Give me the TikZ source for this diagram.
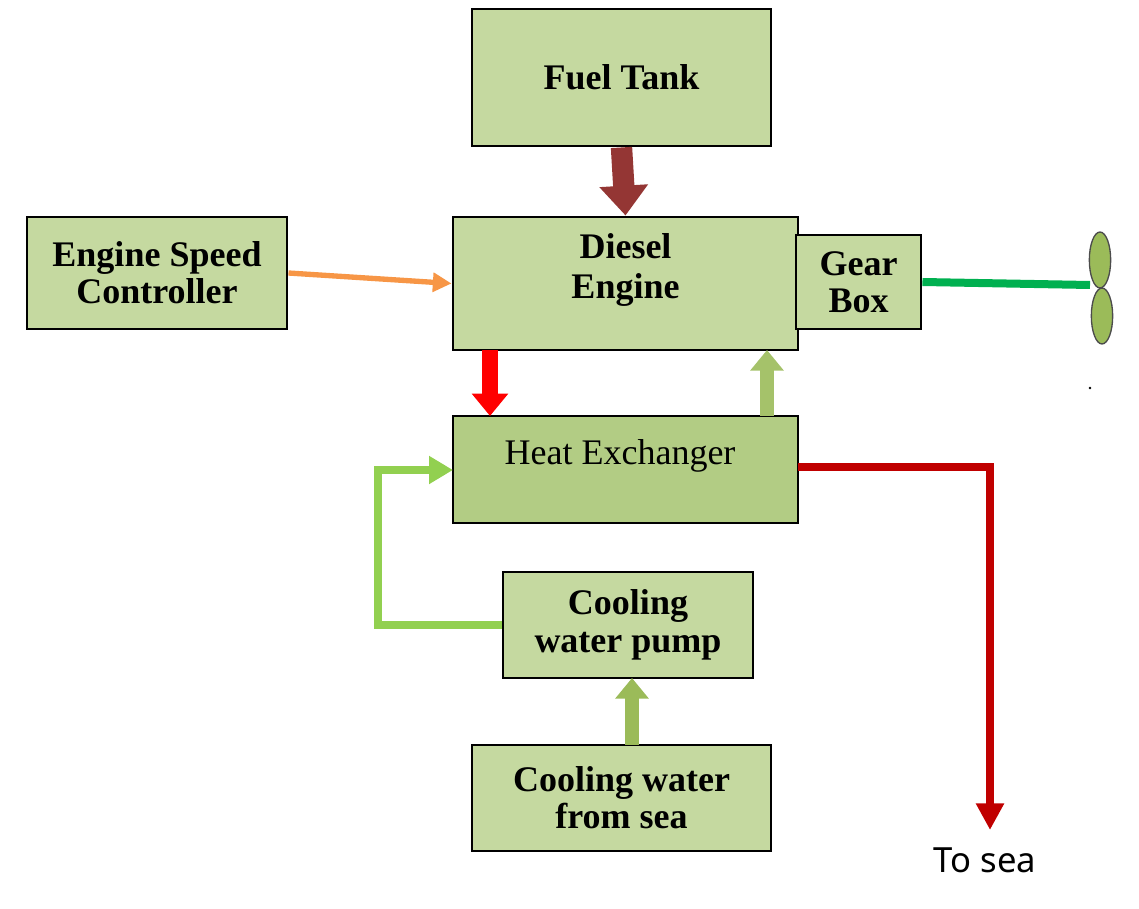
\documentclass[tikz,border=0pt]{standalone}
\usepackage{fontspec}
\setmainfont{Liberation Serif}
\newfontfamily\tosea{Noto Sans}
\usetikzlibrary{arrows.meta,shapes.geometric}
\definecolor{boxg}{HTML}{C5D9A0}
\definecolor{hexg}{HTML}{B2CC84}
\definecolor{fuelc}{HTML}{943634}
\definecolor{orc}{HTML}{F79646}
\definecolor{lgc}{HTML}{92D050}
\definecolor{olc}{HTML}{9BBB59}
\definecolor{drc}{HTML}{C00000}
\definecolor{shc}{HTML}{00B050}
\tikzset{
  blk/.style={draw=black,line width=2.2pt,fill=boxg,font=\bfseries\fontsize{27}{28}\selectfont,align=center,inner sep=0pt},
  blkarrow/.style={line width=#1, -{Triangle[width=2.2*#1,length=1.4*#1]}},
}
\begin{document}
\begin{tikzpicture}[x=0.75pt,y=-0.75pt]
\useasboundingbox (0,0) rectangle (1139,909);
\node[blk,minimum width=224.25pt,minimum height=102.75pt] (fuel) at (621.5,77.5) {Fuel Tank};
\node[blk,minimum width=195pt,minimum height=84pt] (esc) at (157,273) {Engine Speed\\Controller};
\node[blk,minimum width=258.75pt,minimum height=99.75pt,text depth=0pt] (de) at (625.5,283.5) {};
\node[font=\bfseries\fontsize{27}{30}\selectfont,align=center] at (625.5,270) {Diesel\\Engine};
\node[blk,minimum width=93.75pt,minimum height=70.5pt] (gb) at (858.5,282) {Gear\\Box};
\node[blk,fill=hexg,minimum width=258.75pt,minimum height=80.25pt] (hx) at (625.5,469.5) {};
\node[font=\fontsize{27}{28}\selectfont] at (620,456) {Heat Exchanger};
\node[blk,minimum width=187.5pt,minimum height=79.5pt] (pump) at (628,625) {Cooling\\water pump};
\node[blk,minimum width=224.25pt,minimum height=79.5pt] (sea) at (621.5,798) {Cooling water\\from sea};
% arrows
\draw[fuelc,blkarrow=16pt] (fuel.south) -- (de.north);
\draw[orc,line width=4pt,-{Triangle[width=14pt,length=14pt]}] (esc.east) -- (de.west);
\draw[red,blkarrow=12pt] (490,350) -- (490,416);
\draw[olc!90!white,blkarrow=11pt] (767,416) -- (767,350);
\draw[olc,blkarrow=11pt] (632,745) -- (632,678);
\coordinate (c1) at (378,625);
\coordinate (c2) at (378,470);
\draw[lgc,line width=5.5pt,-{Triangle[width=20pt,length=18pt]}] (pump.west) -- (c1) -- (c2) -- (453,470);
\coordinate (r1) at (990,467);
\coordinate (r2) at (990,830);
\draw[drc,line width=5.5pt,-{Triangle[width=20pt,length=20pt]}] (798,467) -- (r1) -- (r2);
\node[font=\tosea\fontsize{26}{28}\selectfont] (ts) at (985,860) {To sea};
% shaft and propeller
\coordinate (sh) at (1090,285);
\draw[shc,line width=6pt] (gb.east) -- (sh);
\node[draw=black!70,fill=olc,ellipse,minimum width=16pt,minimum height=42pt,line width=1pt] (p1) at (1100,260) {};
\node[draw=black!70,fill=olc,ellipse,minimum width=16pt,minimum height=42pt,line width=1pt] (p2) at (1102,316) {};
\fill (1090,388) circle (1pt);
\end{tikzpicture}
\end{document}
